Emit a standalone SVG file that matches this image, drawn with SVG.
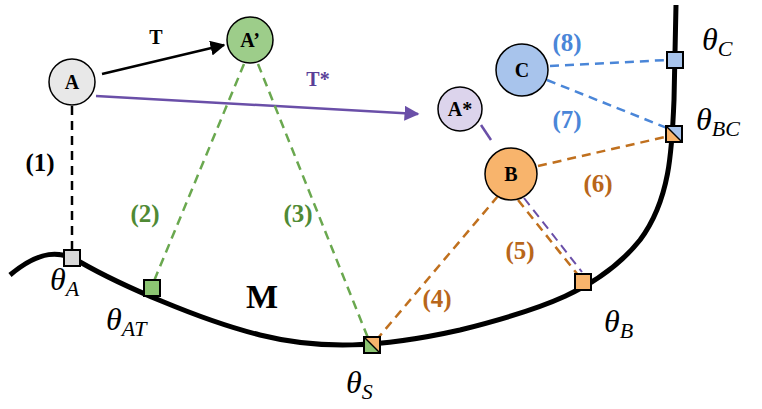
<svg xmlns="http://www.w3.org/2000/svg" width="762" height="409" viewBox="0 0 762 409">
<style>
.n{stroke:#000;stroke-width:1.5}
.nt{font-family:"Liberation Serif",serif;font-weight:bold;font-size:20px;text-anchor:middle}
.lb{font-family:"Liberation Serif",serif;font-weight:bold;font-size:25px;text-anchor:middle}
.th{font-family:"Liberation Serif",serif;font-style:italic;font-size:32px}
.th tspan{font-size:22px}
.d{stroke-width:2.5;stroke-dasharray:9 6;fill:none}
.sq{stroke:#000;stroke-width:2}
</style>
<defs>
<marker id="ab" viewBox="0 0 10 10" refX="9" refY="5" markerWidth="6" markerHeight="6" orient="auto"><path d="M0,0L10,5L0,10z" fill="#000"/></marker>
<marker id="ap" viewBox="0 0 10 10" refX="9" refY="5" markerWidth="6" markerHeight="6" orient="auto"><path d="M0,0L10,5L0,10z" fill="#6a4fa8"/></marker>
</defs>
<g id="connectors">
<path d="M10,275 C40,250 60,250 80,262 C120,285 200,320 260,335 C320,350 380,348 460,330 C540,310 600,290 640,240 C670,200 672,150 674,100 L676,5" fill="none" stroke="#000" stroke-width="5"/>
<line x1="102" y1="74" x2="224" y2="45" stroke="#000" stroke-width="2.5" marker-end="url(#ab)"/>
<line x1="96" y1="96" x2="418" y2="114" stroke="#6a4fa8" stroke-width="2.5" marker-end="url(#ap)"/>
<line class="d" x1="72" y1="106" x2="72" y2="250" stroke="#000"/>
<line class="d" x1="244" y1="64" x2="154" y2="281" stroke="#6aa84f"/>
<line class="d" x1="258" y1="64" x2="368" y2="338" stroke="#6aa84f"/>
<line class="d" x1="498" y1="196" x2="378" y2="338" stroke="#c0701e"/>
<line class="d" x1="518" y1="200" x2="578" y2="275" stroke="#c0701e"/>
<line x1="524" y1="198" x2="582" y2="272" stroke="#6a4fa8" stroke-width="2" stroke-dasharray="9 6"/>
<line x1="481" y1="125" x2="491" y2="140" stroke="#6a4fa8" stroke-width="2.5"/>
<line class="d" x1="538" y1="166" x2="665" y2="137" stroke="#c0701e"/>
<line class="d" x1="547" y1="80" x2="667" y2="128" stroke="#4a86d8"/>
<line class="d" x1="550" y1="66" x2="667" y2="60" stroke="#4a86d8"/>
</g>
<g id="A"><circle cx="72" cy="82" r="23" fill="#e8e8e8" class="n"/><text class="nt" x="72" y="89">A</text></g>
<g id="A1"><circle cx="250" cy="40" r="23" fill="#9dcd8a" class="n"/><text class="nt" x="250" y="47">A’</text></g>
<g id="Astar"><circle cx="460" cy="109" r="22" fill="#dcd4ec" class="n"/><text class="nt" x="460" y="116">A*</text></g>
<g id="B"><circle cx="511" cy="174" r="26" fill="#f8b46c" class="n"/><text class="nt" x="511" y="181">B</text></g>
<g id="C"><circle cx="522" cy="70" r="26" fill="#a8c4ec" class="n"/><text class="nt" x="522" y="77">C</text></g>
<g id="sqA"><rect class="sq" x="64" y="250" width="16" height="16" fill="#d8d8d8"/></g>
<g id="sqAT"><rect class="sq" x="144" y="280" width="16" height="16" fill="#8cc472"/></g>
<g id="sqS"><rect x="364" y="337" width="16" height="16" fill="#f8b46c"/><path d="M364,337L380,353L364,353z" fill="#8cc472"/><rect class="sq" x="364" y="337" width="16" height="16" fill="none"/><line x1="364" y1="337" x2="380" y2="353" stroke="#000" stroke-width="1.5"/></g>
<g id="sqB"><rect class="sq" x="575" y="274" width="16" height="16" fill="#f8b46c"/></g>
<g id="sqBC"><rect x="666" y="126" width="16" height="16" fill="#a8c4ec"/><path d="M666,126L682,142L666,142z" fill="#f8b46c"/><rect class="sq" x="666" y="126" width="16" height="16" fill="none"/><line x1="666" y1="126" x2="682" y2="142" stroke="#000" stroke-width="1.5"/></g>
<g id="sqC"><rect class="sq" x="667" y="52" width="16" height="16" fill="#a8c4ec"/></g>
<g id="labels">
<text class="nt" x="156" y="44">T</text>
<text class="nt" x="318" y="86" fill="#5a3f98">T*</text>
<text class="lb" x="40" y="171">(1)</text>
<text class="lb" x="145" y="222" fill="#4f8a34">(2)</text>
<text class="lb" x="298" y="222" fill="#4f8a34">(3)</text>
<text class="lb" x="437" y="307" fill="#b8661a">(4)</text>
<text class="lb" x="520" y="259" fill="#b8661a">(5)</text>
<text class="lb" x="598" y="192" fill="#b8661a">(6)</text>
<text class="lb" x="567" y="128" fill="#4a86d8">(7)</text>
<text class="lb" x="567" y="51" fill="#4a86d8">(8)</text>
<text x="262" y="308" font-family="Liberation Serif,serif" font-weight="bold" font-size="34" text-anchor="middle">M</text>
<text class="th" x="50" y="290">θ<tspan dy="6">A</tspan></text>
<text class="th" x="106" y="330">θ<tspan dy="6">AT</tspan></text>
<text class="th" x="346" y="393">θ<tspan dy="6">S</tspan></text>
<text class="th" x="604" y="332">θ<tspan dy="6">B</tspan></text>
<text class="th" x="696" y="130">θ<tspan dy="6">BC</tspan></text>
<text class="th" x="702" y="50">θ<tspan dy="6">C</tspan></text>
</g>
</svg>
